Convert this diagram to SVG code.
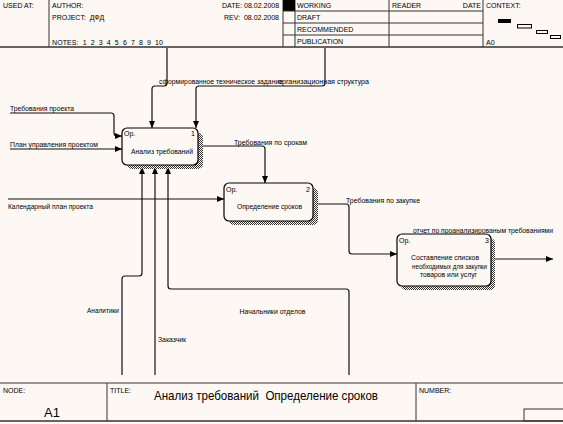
<svg xmlns="http://www.w3.org/2000/svg" width="563" height="424" viewBox="0 0 563 424">
<defs>
<pattern id="hatch" width="2" height="2" patternUnits="userSpaceOnUse"><rect width="2" height="2" fill="#fdf8f3"/><rect width="1" height="1" fill="#333"/><rect x="1" y="1" width="1" height="1" fill="#333"/></pattern>
<marker id="arr" markerWidth="8" markerHeight="6" refX="7" refY="3" orient="auto" markerUnits="userSpaceOnUse"><path d="M0,0 L7,3 L0,6 Z" fill="#000"/></marker>
</defs>
<style>
text{font-family:"Liberation Sans",Arial,sans-serif;fill:#000;white-space:pre}
.s{font-size:7px}
.h{font-size:7px}
.big{font-size:13px}
.fr{stroke:#333;fill:none;stroke-width:1}
.c{fill:none;stroke:#111;stroke-width:1.2;marker-end:url(#arr)}
.box{fill:#fdf8f3;stroke:#000;stroke-width:1.2}
.sh{fill:url(#hatch)}
</style>
<rect width="563" height="424" fill="#fdf8f3"/>

<g id="header">
<line class="fr" x1="49" y1="0" x2="49" y2="47"/>
<line class="fr" x1="283" y1="0" x2="283" y2="47"/>
<line class="fr" x1="295" y1="0" x2="295" y2="47"/>
<line class="fr" x1="389" y1="0" x2="389" y2="47"/>
<line class="fr" x1="483" y1="0" x2="483" y2="47"/>
<rect x="283" y="0" width="12" height="11" fill="#000"/>
<line class="fr" x1="283" y1="11" x2="483" y2="11"/>
<line class="fr" x1="283" y1="23" x2="483" y2="23"/>
<line class="fr" x1="283" y1="35" x2="483" y2="35"/>
<line x1="0" y1="47" x2="563" y2="47" stroke="#333" stroke-width="1.6"/>
<text class="h" x="3" y="8">USED AT:</text>
<text class="h" x="52" y="8">AUTHOR:</text>
<text class="h" x="52" y="19.5" xml:space="preserve">PROJECT:  ДФД</text>
<text class="h" x="52" y="44.5" xml:space="preserve" textLength="111" lengthAdjust="spacing">NOTES:  1  2  3  4  5  6  7  8  9  10</text>
<text class="h" x="222" y="8">DATE: 08.02.2008</text>
<text class="h" x="224" y="19.5" xml:space="preserve">REV:  08.02.2008</text>
<text class="h" x="297" y="8">WORKING</text>
<text class="h" x="297" y="20">DRAFT</text>
<text class="h" x="297" y="32">RECOMMENDED</text>
<text class="h" x="297" y="44">PUBLICATION</text>
<text class="h" x="392" y="8">READER</text>
<text class="h" x="481" y="8" text-anchor="end">DATE</text>
<text class="h" x="486" y="8">CONTEXT:</text>
<text class="h" x="486" y="44.5">A0</text>
<rect x="498" y="19" width="13" height="4" fill="#000"/>
<rect x="517.5" y="24.5" width="14" height="3.5" fill="none" stroke="#000" stroke-width="1"/>
<rect x="536.5" y="30.5" width="11" height="3" fill="none" stroke="#000" stroke-width="1"/>
<rect x="550.5" y="35.5" width="10" height="3" fill="none" stroke="#000" stroke-width="1"/>
</g>

<g id="connectors">
<path class="c" d="M10,113 H111 Q114,113 114,116 V133 Q114,136 117,136 H122"/>
<path class="c" d="M10,149 H122"/>
<path class="c" d="M8,199 H224"/>
<path class="c" d="M167,48 V83 Q167,86 164,86 H155 Q152,86 152,89 V128"/>
<path class="c" d="M325,48 V83 Q325,86 322,86 H199 Q196,86 196,89 V128"/>
<path class="c" d="M202,146 H262 Q265,146 265,149 V183"/>
<path class="c" d="M317,204 H346 Q349,204 349,207 V251 Q349,254 352,254 H397"/>
<path class="c" d="M495,259 H553"/>
<path class="c" d="M122,375 V279 Q122,276 125,276 H139 Q142,276 142,273 V167"/>
<path class="c" d="M155,375 V167"/>
<path class="c" d="M349,375 V292 Q349,289 346,289 H171 Q168,289 168,286 V167"/>
<text class="s" x="10" y="111" textLength="64" lengthAdjust="spacingAndGlyphs">Требования проекта</text>
<text class="s" x="10" y="146.5" textLength="88" lengthAdjust="spacingAndGlyphs">План управления проектом</text>
<text class="s" x="8" y="208.5" textLength="85" lengthAdjust="spacingAndGlyphs">Календарный план проекта</text>
<text class="s" x="159" y="84" textLength="124" lengthAdjust="spacingAndGlyphs">сформированное техническое задание</text>
<text class="s" x="278" y="84" textLength="91" lengthAdjust="spacingAndGlyphs">организационная структура</text>
<text class="s" x="234" y="144.5" textLength="73" lengthAdjust="spacingAndGlyphs">Требования по срокам</text>
<text class="s" x="346" y="202.5" textLength="74" lengthAdjust="spacingAndGlyphs">Требования по закупке</text>
<text class="s" x="413" y="232.5" textLength="140" lengthAdjust="spacingAndGlyphs">отчет по проанализированым требованиями</text>
<text class="s" x="87" y="312.5" textLength="32" lengthAdjust="spacingAndGlyphs">Аналитики</text>
<text class="s" x="158" y="341.5" textLength="28" lengthAdjust="spacingAndGlyphs">Заказчик</text>
<text class="s" x="239.5" y="314" textLength="66" lengthAdjust="spacingAndGlyphs">Начальники отделов</text>
</g>

<g id="node1">
<rect class="sh" x="127" y="133" width="76" height="36" rx="5"/>
<rect class="box" x="122" y="128" width="76" height="37" rx="5"/>
<text class="s" x="124" y="136">Ор.</text>
<text class="s" x="195" y="136" text-anchor="end">1</text>
<text class="s" x="131" y="154" textLength="62" lengthAdjust="spacingAndGlyphs">Анализ требований</text>
</g>

<g id="node2">
<rect class="sh" x="229" y="188" width="89" height="37" rx="5"/>
<rect class="box" x="224" y="183" width="89" height="38" rx="5"/>
<text class="s" x="226" y="192">Ор.</text>
<text class="s" x="310" y="192" text-anchor="end">2</text>
<text class="s" x="237" y="209" textLength="65" lengthAdjust="spacingAndGlyphs">Определение сроков</text>
</g>

<g id="node3">
<rect class="sh" x="401" y="238" width="94" height="52" rx="5"/>
<rect class="box" x="397" y="234" width="94" height="52" rx="5"/>
<text class="s" x="399" y="243">Ор.</text>
<text class="s" x="489" y="243" text-anchor="end">3</text>
<text class="s" x="411" y="259.5" textLength="68" lengthAdjust="spacingAndGlyphs">Составление списков</text>
<text class="s" x="412" y="268.5" textLength="75" lengthAdjust="spacingAndGlyphs">необходимых для закупки</text>
<text class="s" x="420" y="277" textLength="57" lengthAdjust="spacingAndGlyphs">товаров или услуг</text>
</g>

<g id="footer">
<line class="fr" x1="0" y1="383" x2="563" y2="383"/>
<line class="fr" x1="107" y1="383" x2="107" y2="421"/>
<line class="fr" x1="416" y1="383" x2="416" y2="421"/>
<rect x="524" y="409" width="40" height="12" fill="none" stroke="#333" stroke-width="1"/>
<line x1="0" y1="421" x2="563" y2="421" stroke="#333" stroke-width="1.6"/>
<text class="h" x="3" y="393">NODE:</text>
<text class="big" x="52" y="417" text-anchor="middle">A1</text>
<text class="h" x="110" y="393">TITLE:</text>
<text class="big" x="154" y="400" xml:space="preserve" textLength="224" lengthAdjust="spacingAndGlyphs">Анализ требований  Определение сроков</text>
<text class="h" x="419" y="393">NUMBER:</text>
</g>
</svg>
